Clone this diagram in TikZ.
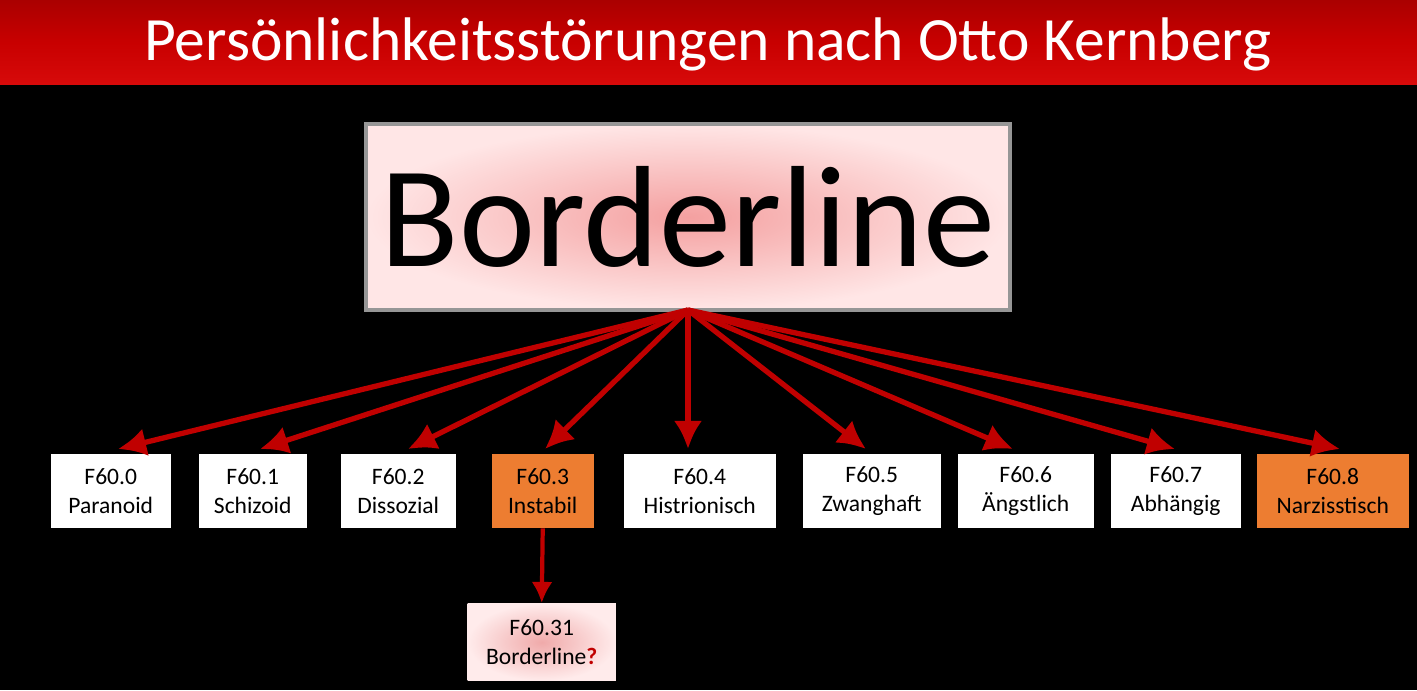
\documentclass[tikz,border=0pt]{standalone}
\usepackage{fontspec}
\setmainfont{Carlito}
\begin{document}
\begin{tikzpicture}[x=0.01cm,y=-0.01cm,
  code/.style={draw=none,fill=white,minimum height=0.74cm,align=center,font=\fontsize{6.7pt}{8.2pt}\selectfont,inner sep=0pt,anchor=north west},
  hi/.style={fill={rgb,255:red,237;green,125;blue,49}},
  arr/.style={draw={rgb,255:red,192;green,0;blue,0},line width=1.5pt,-{Latex[length=8pt,width=8pt]}}]
\usetikzlibrary{arrows.meta}
\definecolor{dred}{RGB}{192,0,0}
\fill[black] (0,0) rectangle (1417,690);
\useasboundingbox (0,0) rectangle (1417,690);
\shade[top color={rgb,255:red,170;green,0;blue,0},bottom color={rgb,255:red,215;green,10;blue,10},middle color={rgb,255:red,200;green,0;blue,0}] (0,0) rectangle (1417,84);
\node[text=white,font=\fontsize{17.5pt}{20pt}\selectfont] (title) at (708,44) {Persönlichkeitsstörungen nach Otto Kernberg};
\node[draw={rgb,255:red,150;green,150;blue,150},line width=1pt,inner sep=0pt,minimum width=6.44cm,minimum height=1.86cm,
  inner color={rgb,255:red,244;green,160;blue,160},outer color={rgb,255:red,255;green,230;blue,230},
  font=\fontsize{41pt}{45pt}\selectfont] (bl) at (688,217) {Borderline};
\coordinate (src) at (688,310);
\node[code,minimum width=1.20cm] (a) at (50,453) {F60.0\\Paranoid};
\node[code,minimum width=1.08cm] (b) at (198,453) {F60.1\\Schizoid};
\node[code,minimum width=1.15cm] (c) at (340,453) {F60.2\\Dissozial};
\node[code,hi,minimum width=1.02cm] (d) at (491,453) {F60.3\\Instabil};
\node[code,minimum width=1.52cm] (e) at (623,453) {F60.4\\Histrionisch};
\node[code,minimum width=1.38cm] (f) at (802,453) {F60.5\\Zwanghaft};
\node[code,minimum width=1.36cm] (g) at (957,453) {F60.6\\Ängstlich};
\node[code,minimum width=1.30cm] (h) at (1110,453) {F60.7\\Abhängig};
\node[code,hi,minimum width=1.52cm] (i) at (1256,453) {F60.8\\Narzisstisch};
\node[code,minimum width=1.48cm,minimum height=0.77cm,inner color={rgb,255:red,240;green,170;blue,170},outer color={rgb,255:red,255;green,235;blue,235}] (j) at (467,603) {F60.31\\Borderline\textcolor{dred}{\textbf{?}}};
\foreach \n/\x in {a/118,b/260,c/408,d/545,e/688,f/866,g/1013,h/1175,i/1340}
  \draw[arr] (src) -- (\x,449);
\draw[draw=dred,line width=1.2pt,-{Latex[length=6pt,width=6pt]}] (d.south) -- (j.north);
\end{tikzpicture}
\end{document}
